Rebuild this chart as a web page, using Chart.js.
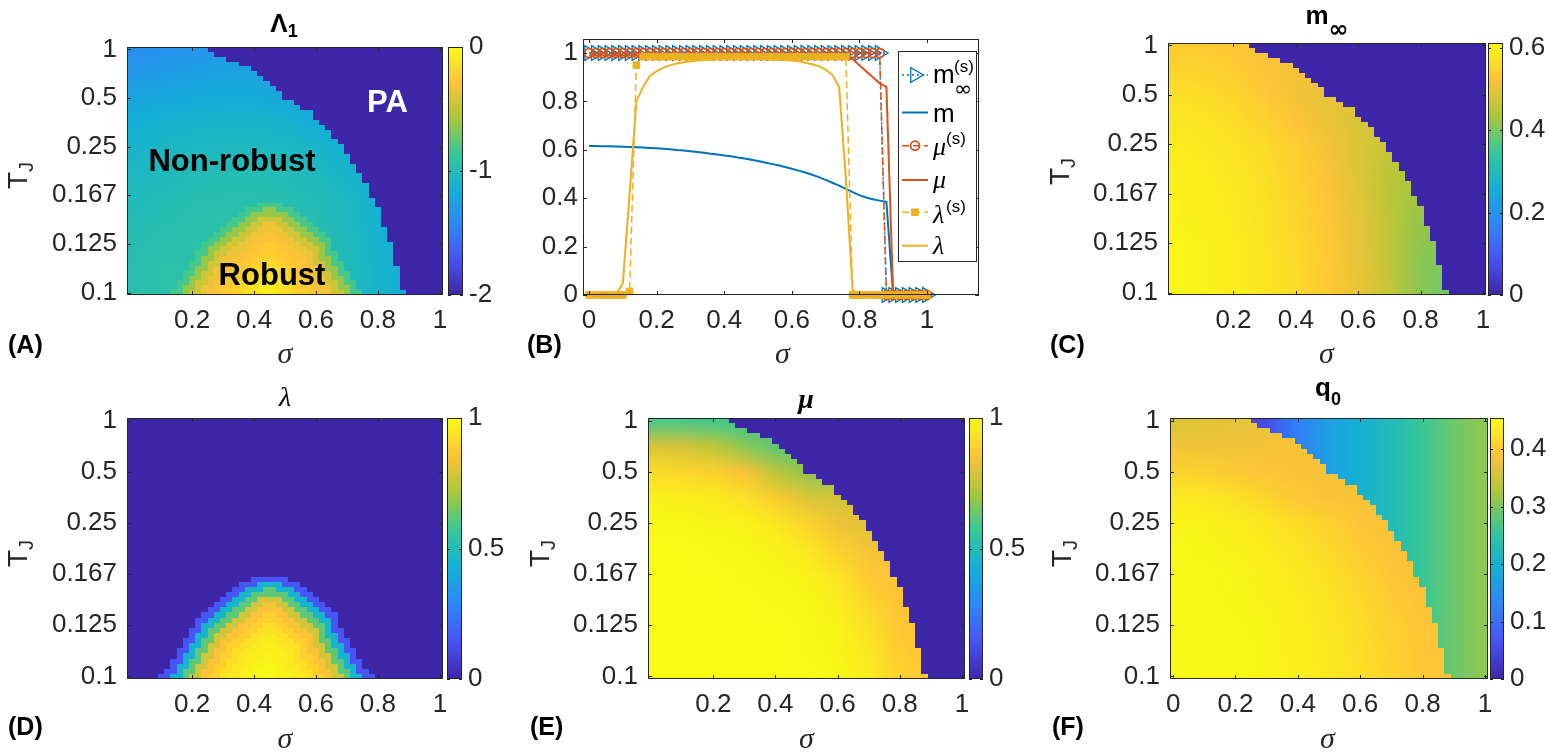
<!DOCTYPE html>
<html>
<head>
<meta charset="utf-8">
<title>Phase diagrams</title>
<script src="https://cdn.jsdelivr.net/npm/chart.js@4.4.1/dist/chart.umd.min.js"></script>
<style>
  html, body { margin:0; padding:0; background:#ffffff; }
  #fig { position:relative; width:1550px; height:755px; overflow:hidden; background:#fff; }
  #fig canvas { position:absolute; }
  .t { position:absolute; white-space:nowrap; line-height:1; font-family:'Liberation Sans', Arial, Helvetica, sans-serif; }
</style>
</head>
<body>
<div id="fig"></div>
<script>
// ======================= DATA =======================
const HEAT_X_TICKS = [0.2, 0.4, 0.6, 0.8, 1];
const HEAT_X_TICKS_F = [0, 0.2, 0.4, 0.6, 0.8, 1];
const TJ_POS = [0, 1, 2, 3, 4, 5];
const TJ_LABELS = ['0.1', '0.125', '0.167', '0.25', '0.5', '1'];

// sigma cell centres (also the sampling grid of panel B)
const SIGMA_GRID = [0,0.02,0.04,0.06,0.08,0.1,0.12,0.14,0.16,0.18,
  0.2,0.22,0.24,0.26,0.28,0.3,0.32,0.34,0.36,0.38,
  0.4,0.42,0.44,0.46,0.48,0.5,0.52,0.54,0.56,0.58,
  0.6,0.62,0.64,0.66,0.68,0.7,0.72,0.74,0.76,0.78,
  0.8,0.82,0.84,0.86,0.88,0.9,0.92,0.94,0.96,0.98,1];

// heat-map rows (position on the T_J axis), top row first
const ROW_Y = [5,4.9,4.8,4.7,4.6,4.5,4.4,4.3,4.2,4.1,
  4,3.9,3.8,3.7,3.6,3.5,3.4,3.3,3.2,3.1,
  3,2.9,2.8,2.7,2.6,2.5,2.4,2.3,2.2,2.1,
  2,1.9,1.8,1.7,1.6,1.5,1.4,1.3,1.2,1.1,
  1,0.9,0.8,0.7,0.6,0.5,0.4,0.3,0.2,0.1,0];
// first sigma cell of the PA phase in each row (top row first)
const PA_START = [0.26,0.28,0.32,0.36,0.40,0.42,0.44,0.46,0.48,0.50,
  0.50,0.54,0.56,0.60,0.60,0.62,0.64,0.66,0.66,0.68,
  0.70,0.70,0.72,0.72,0.74,0.74,0.76,0.76,0.78,0.78,
  0.78,0.80,0.80,0.82,0.82,0.82,0.82,0.84,0.84,0.84,
  0.86,0.86,0.86,0.86,0.86,0.88,0.88,0.88,0.88,0.88,
  0.90];

// robust dome: rows (bottom first) with first / last sigma cell where lambda > 0
const DOME_Y = [0,0.1,0.2,0.3,0.4,0.5,0.6,0.7,0.8,0.9,1.0,1.1,1.2,1.3,1.4,1.5,1.6,1.7,1.8,1.9];
const DOME_LEFT  = [0.10,0.12,0.14,0.14,0.16,0.16,0.18,0.18,0.20,0.20,0.22,0.22,0.24,0.26,0.28,0.30,0.32,0.34,0.36,0.40];
const DOME_RIGHT = [0.78,0.76,0.74,0.74,0.72,0.72,0.70,0.70,0.68,0.68,0.66,0.66,0.66,0.64,0.62,0.60,0.58,0.56,0.54,0.50];
// values inside the dome by depth (ring 0 = outermost cells); null = not part of the robust phase
const LAMBDA_RINGS  = [0.15,0.45,0.62,0.78,0.85,0.89,0.93,0.955,0.97,0.98,0.99,1.0];
const LAMBDA1_RINGS = [null,-0.82,-0.62,-0.45,-0.34,-0.29,-0.26,-0.22,-0.17,-0.12,-0.08,-0.05,-0.03];

// coarse sample grid of the smooth fields
const GRID_SIGMA = [0,0.1,0.2,0.3,0.4,0.5,0.6,0.7,0.8,0.9,1.0];
const GRID_Y = [5,4.5,4,3.5,3,2.5,2,1.5,1,0.5,0];

// (A) Lambda_1 in the non-robust phase
const LAMBDA1_NONROBUST = [
  [-1.38,-1.36,-1.33,-1.30,-1.30,-1.30,-1.30,-1.30,-1.30,-1.30,-1.30],
  [-1.30,-1.28,-1.26,-1.24,-1.24,-1.26,-1.26,-1.26,-1.26,-1.26,-1.26],
  [-1.22,-1.20,-1.18,-1.16,-1.16,-1.20,-1.22,-1.22,-1.22,-1.22,-1.22],
  [-1.15,-1.12,-1.10,-1.09,-1.09,-1.11,-1.16,-1.20,-1.20,-1.20,-1.20],
  [-1.10,-1.07,-1.05,-1.04,-1.04,-1.05,-1.08,-1.14,-1.18,-1.18,-1.18],
  [-1.06,-1.03,-1.01,-1.00,-1.00,-1.01,-1.04,-1.10,-1.16,-1.16,-1.16],
  [-1.03,-1.00,-0.98,-0.97,-0.97,-0.98,-1.01,-1.06,-1.14,-1.16,-1.16],
  [-1.00,-0.98,-0.96,-0.95,-0.95,-0.96,-0.99,-1.04,-1.12,-1.18,-1.18],
  [-0.98,-0.96,-0.95,-0.94,-0.94,-0.95,-0.98,-1.03,-1.10,-1.18,-1.18],
  [-0.97,-0.95,-0.94,-0.93,-0.93,-0.94,-0.97,-1.02,-1.10,-1.18,-1.18],
  [-0.96,-0.95,-0.94,-0.93,-0.93,-0.94,-0.97,-1.02,-1.10,-1.18,-1.18]];
const LAMBDA1_PA = -2;

// (C) m_inf
const M_INF_FIELD = [
  [0.535,0.535,0.530,0.525,0.525,0.525,0.525,0.525,0.525,0.525,0.525],
  [0.555,0.550,0.540,0.525,0.515,0.515,0.515,0.515,0.515,0.515,0.515],
  [0.570,0.565,0.552,0.532,0.512,0.500,0.500,0.500,0.500,0.500,0.500],
  [0.582,0.577,0.565,0.548,0.525,0.505,0.485,0.480,0.480,0.480,0.480],
  [0.590,0.585,0.575,0.560,0.540,0.515,0.487,0.465,0.465,0.465,0.465],
  [0.595,0.590,0.580,0.565,0.545,0.520,0.490,0.455,0.445,0.445,0.445],
  [0.600,0.595,0.585,0.570,0.550,0.525,0.495,0.450,0.430,0.430,0.430],
  [0.600,0.596,0.587,0.572,0.555,0.530,0.500,0.455,0.420,0.415,0.415],
  [0.605,0.600,0.590,0.575,0.558,0.533,0.500,0.455,0.415,0.405,0.405],
  [0.605,0.600,0.590,0.577,0.560,0.535,0.502,0.460,0.410,0.398,0.398],
  [0.605,0.600,0.592,0.578,0.560,0.536,0.503,0.462,0.410,0.392,0.392]];
const M_INF_PA = 0;

// (D) lambda outside the dome
const LAMBDA_OUTSIDE = 0;

// (E) mu
const MU_FIELD = [
  [0.60,0.60,0.59,0.58,0.58,0.58,0.58,0.58,0.58,0.58,0.58],
  [0.80,0.79,0.75,0.68,0.62,0.62,0.62,0.62,0.62,0.62,0.62],
  [0.92,0.91,0.89,0.85,0.74,0.68,0.68,0.68,0.68,0.68,0.68],
  [0.975,0.97,0.96,0.93,0.88,0.80,0.78,0.78,0.78,0.78,0.78],
  [0.995,0.99,0.985,0.98,0.95,0.90,0.83,0.80,0.80,0.80,0.80],
  [1.0,1.0,0.995,0.99,0.98,0.95,0.89,0.84,0.84,0.84,0.84],
  [1.0,1.0,1.0,0.995,0.99,0.98,0.94,0.87,0.86,0.86,0.86],
  [1.0,1.0,1.0,1.0,0.995,0.99,0.965,0.90,0.86,0.86,0.86],
  [1.0,1.0,1.0,1.0,1.0,0.995,0.98,0.93,0.87,0.865,0.865],
  [1.0,1.0,1.0,1.0,1.0,0.995,0.985,0.95,0.88,0.865,0.865],
  [1.0,1.0,1.0,1.0,1.0,1.0,0.99,0.96,0.89,0.87,0.87]];
const MU_PA = 0;

// (F) q0 : ordered phase and PA phase
const Q0_FIELD = [
  [0.363,0.365,0.370,0.375,0.378,0.378,0.378,0.378,0.378,0.378,0.378],
  [0.380,0.380,0.380,0.383,0.385,0.385,0.385,0.385,0.385,0.385,0.385],
  [0.410,0.405,0.397,0.390,0.385,0.385,0.385,0.385,0.385,0.385,0.385],
  [0.436,0.432,0.424,0.410,0.395,0.386,0.385,0.385,0.385,0.385,0.385],
  [0.447,0.445,0.440,0.430,0.418,0.405,0.390,0.385,0.385,0.385,0.385],
  [0.450,0.448,0.444,0.437,0.427,0.414,0.398,0.387,0.386,0.386,0.386],
  [0.450,0.450,0.447,0.442,0.433,0.422,0.408,0.392,0.386,0.386,0.386],
  [0.451,0.450,0.448,0.444,0.437,0.427,0.413,0.398,0.388,0.388,0.388],
  [0.451,0.451,0.450,0.446,0.440,0.430,0.418,0.403,0.392,0.390,0.390],
  [0.452,0.451,0.450,0.447,0.441,0.432,0.420,0.405,0.393,0.390,0.390],
  [0.452,0.452,0.450,0.447,0.442,0.433,0.422,0.407,0.394,0.390,0.390]];
const Q0_PA_Y = [5, 0];
const Q0_PA_FIELD = [
  [0.03,0.03,0.03,0.06,0.125,0.17,0.20,0.226,0.26,0.29,0.31],
  [0.03,0.03,0.03,0.06,0.125,0.17,0.20,0.226,0.26,0.29,0.31]];

// colour-bar ranges and ticks
const CB_A_RANGE = [-2, 0],      CB_A_TICKS = [-2, -1, 0];
const CB_C_RANGE = [0, 0.612],   CB_C_TICKS = [0, 0.2, 0.4, 0.6];
const CB_D_RANGE = [0, 1],       CB_D_TICKS = [0, 0.5, 1];
const CB_E_RANGE = [0, 1],       CB_E_TICKS = [0, 0.5, 1];
const CB_F_RANGE = [0, 0.454],   CB_F_TICKS = [0, 0.1, 0.2, 0.3, 0.4];

// (B) cuts at T_J = 0.1
const B_X_TICKS = [0, 0.2, 0.4, 0.6, 0.8, 1];
const B_Y_TICKS = [0, 0.2, 0.4, 0.6, 0.8, 1];
const M_INF_S = [1,1,1,1,1,1,1,1,1,1, 1,1,1,1,1,1,1,1,1,1, 1,1,1,1,1,1,1,1,1,1, 1,1,1,1,1,1,1,1,1,1, 1,1,1,1,0,0,0,0,0,0, 0];
const M_B = [0.616,0.616,0.615,0.615,0.614,0.613,0.612,0.611,0.610,0.608,
  0.606,0.604,0.602,0.599,0.597,0.594,0.591,0.588,0.584,0.581,
  0.577,0.573,0.568,0.564,0.559,0.554,0.548,0.542,0.536,0.529,
  0.522,0.514,0.506,0.497,0.487,0.476,0.464,0.452,0.439,0.425,
  0.413,0.403,0.396,0.390,0.385,0,0,0,0,0,
  0];
const MU_S = [1,1,1,1,1,1,1,1,1,1, 1,1,1,1,1,1,1,1,1,1, 1,1,1,1,1,1,1,1,1,1, 1,1,1,1,1,1,1,1,1,1, 1,1,1,1,0,0,0,0,0,0, 0];
const MU_B = [0.99,0.99,0.99,0.99,0.99,0.99,0.99,0.99,0.99,0.99,
  0.99,0.99,0.99,0.99,0.99,0.99,0.99,0.99,0.99,0.99,
  0.99,0.99,0.99,0.99,0.99,0.99,0.99,0.99,0.99,0.99,
  0.99,0.99,0.99,0.99,0.99,0.99,0.99,0.99,0.985,0.975,
  0.95,0.925,0.90,0.875,0.86,0,0,0,0,0,
  0];
const LAMBDA_S = [0,0,0,0,0,0,0.015,0.95,0.985,0.985,
  0.985,0.985,0.985,0.985,0.985,0.985,0.985,0.985,0.985,0.985,
  0.985,0.985,0.985,0.985,0.985,0.985,0.985,0.985,0.985,0.985,
  0.985,0.985,0.985,0.985,0.985,0.985,0.985,0.985,0.985,0,
  0,0,0,0,0,0,0,0,0,0,
  0];
const LAMBDA_B = [0,0,0,0,0,0.05,0.42,0.80,0.86,0.905,
  0.925,0.94,0.95,0.957,0.962,0.966,0.969,0.971,0.973,0.974,
  0.975,0.975,0.975,0.975,0.975,0.975,0.974,0.973,0.972,0.971,
  0.969,0.966,0.960,0.954,0.946,0.932,0.910,0.860,0.480,0.020,
  0,0,0,0,0,0,0,0,0,0,
  0];

// ======================= STYLE / RENDERING =======================
const SANS = "'Liberation Sans', Arial, Helvetica, sans-serif";
const SERIF = "'Liberation Serif', 'Times New Roman', serif";
const INK = '#262626';
const BLUE = 'rgb(0,114,189)', ORANGE = 'rgb(217,83,25)', YELLOW = 'rgb(237,177,32)';
const CELL_HW = 0.01, CELL_HH = 0.05;
const PARULA = [[62,38,168],[72,82,244],[46,135,247],[18,177,214],[55,200,151],[171,199,57],[254,195,56],[249,251,21]];

Chart.defaults.font.family = SANS;
Chart.defaults.color = INK;

const fig = document.getElementById('fig');

function parulaRGB(t) {
  t = Math.max(0, Math.min(1, t));
  const n = PARULA.length - 1, f = t * n;
  const i = Math.min(n - 1, Math.floor(f)), u = f - i;
  const a = PARULA[i], b = PARULA[i + 1];
  return [0, 1, 2].map(j => Math.round(a[j] + (b[j] - a[j]) * u));
}
function parulaCss(t) { const c = parulaRGB(t); return `rgb(${c[0]},${c[1]},${c[2]})`; }
function valColor(v, r) { return parulaCss((v - r[0]) / (r[1] - r[0])); }

function fieldCanvas(grid, r) {
  const h = grid.length, w = grid[0].length;
  const c = document.createElement('canvas'); c.width = w; c.height = h;
  const g = c.getContext('2d'); const im = g.createImageData(w, h);
  for (let j = 0; j < h; j++) for (let i = 0; i < w; i++) {
    const col = parulaRGB((grid[j][i] - r[0]) / (r[1] - r[0])); const p = (j * w + i) * 4;
    im.data[p] = col[0]; im.data[p + 1] = col[1]; im.data[p + 2] = col[2]; im.data[p + 3] = 255;
  }
  g.putImageData(im, 0, 0); return c;
}
function drawField(chart, img, gs, gy) {
  const xs = chart.scales.x, ys = chart.scales.y, ctx = chart.ctx;
  const ds = gs[1] - gs[0], dy = gy[0] - gy[1];
  const x0 = xs.getPixelForValue(gs[0] - ds / 2), x1 = xs.getPixelForValue(gs[gs.length - 1] + ds / 2);
  const y0 = ys.getPixelForValue(gy[0] + dy / 2), y1 = ys.getPixelForValue(gy[gy.length - 1] - dy / 2);
  ctx.imageSmoothingEnabled = true;
  ctx.imageSmoothingQuality = 'low';
  ctx.drawImage(img, x0, y0, x1 - x0, y1 - y0);
}
function rpx(scale, v) { return Math.round(scale.getPixelForValue(v)); }
function paPath(chart) {
  const xs = chart.scales.x, ys = chart.scales.y, ctx = chart.ctx;
  ctx.beginPath();
  for (let k = 0; k < ROW_Y.length; k++) {
    const xa = rpx(xs, PA_START[k] - CELL_HW), xb = rpx(xs, 1 + CELL_HW);
    const ya = rpx(ys, ROW_Y[k] + CELL_HH), yb = rpx(ys, ROW_Y[k] - CELL_HH);
    ctx.rect(xa, ya, xb - xa, yb - ya);
  }
}
function inDome(k, c) {
  if (c < 0 || c >= SIGMA_GRID.length) return false;
  if (k < 0) return true;
  if (k >= DOME_Y.length) return false;
  const s = SIGMA_GRID[c];
  return s >= DOME_LEFT[k] - 1e-6 && s <= DOME_RIGHT[k] + 1e-6;
}
function ringOf(k, c) {
  for (let d = 1; d < 40; d++) {
    for (let dk = -d; dk <= d; dk++) for (let dc = -d; dc <= d; dc++) {
      if (Math.max(Math.abs(dk), Math.abs(dc)) !== d) continue;
      if (!inDome(k + dk, c + dc)) return d - 1;
    }
  }
  return 39;
}
function drawDome(chart, rings, r) {
  const xs = chart.scales.x, ys = chart.scales.y, ctx = chart.ctx;
  for (let k = 0; k < DOME_Y.length; k++) for (let c = 0; c < SIGMA_GRID.length; c++) {
    if (!inDome(k, c)) continue;
    const v = rings[Math.min(ringOf(k, c), rings.length - 1)];
    if (v === null) continue;
    const xa = rpx(xs, SIGMA_GRID[c] - CELL_HW), xb = rpx(xs, SIGMA_GRID[c] + CELL_HW);
    const ya = rpx(ys, DOME_Y[k] + CELL_HH), yb = rpx(ys, DOME_Y[k] - CELL_HH);
    ctx.fillStyle = valColor(v, r);
    ctx.fillRect(xa, ya, xb - xa, yb - ya);
  }
}

// frame + inward ticks (MATLAB style box)
const framePlugin = {
  id: 'frame',
  afterDraw(chart, args, opts) {
    const ctx = chart.ctx, a = chart.chartArea, L = opts.len || 4;
    ctx.save();
    ctx.strokeStyle = INK; ctx.lineWidth = 1; ctx.setLineDash([]);
    ctx.strokeRect(a.left + 0.5, a.top + 0.5, a.right - a.left - 1, a.bottom - a.top - 1);
    ctx.beginPath();
    for (const id of Object.keys(chart.scales)) {
      const s = chart.scales[id];
      if (s.options.display === false) continue;
      for (const t of s.ticks) {
        const p = Math.round(s.getPixelForValue(t.value)) + 0.5;
        if (s.isHorizontal()) {
          ctx.moveTo(p, a.bottom); ctx.lineTo(p, a.bottom - L);
          ctx.moveTo(p, a.top); ctx.lineTo(p, a.top + L);
        } else {
          ctx.moveTo(a.left, p); ctx.lineTo(a.left + L, p);
          ctx.moveTo(a.right, p); ctx.lineTo(a.right - L, p);
        }
      }
    }
    ctx.stroke();
    ctx.restore();
  }
};

function mkCanvas(l, t, w, h) {
  const c = document.createElement('canvas');
  c.width = w; c.height = h;
  c.style.left = l + 'px'; c.style.top = t + 'px';
  c.style.width = w + 'px'; c.style.height = h + 'px';
  fig.appendChild(c); return c;
}
function noPad(s) { s.paddingTop = 0; s.paddingBottom = 0; s.paddingLeft = 0; s.paddingRight = 0; }
const TICK_FONT = { size: 26, family: SANS };
const NO_GRID = { display: false, drawTicks: false, tickLength: 0 };

function makeHeat(p) {
  const padL = 95, padT = 12, padR = 12, padB = 50;
  const W = p.r - p.l, H = p.b - p.t;
  const cv = mkCanvas(p.l - padL, p.t - padT, W + padL + padR, H + padT + padB);
  return new Chart(cv, {
    type: 'scatter',
    data: { datasets: [] },
    options: {
      responsive: false, animation: false, events: [],
      layout: { autoPadding: false, padding: { left: 0, top: padT, right: padR, bottom: 0 } },
      plugins: { legend: { display: false }, tooltip: { enabled: false }, frame: { len: 4 } },
      scales: {
        x: { type: 'linear', min: -0.01, max: 1.01, grid: NO_GRID, border: { display: false },
          afterFit: s => { s.height = padB; noPad(s); },
          afterBuildTicks: s => { s.ticks = p.xTicks.map(v => ({ value: v })); },
          ticks: { font: TICK_FONT, color: INK, padding: 10, maxRotation: 0, minRotation: 0, autoSkip: false, callback: v => String(v) } },
        y: { type: 'linear', min: -0.05, max: 5.05, grid: NO_GRID, border: { display: false },
          afterFit: s => { s.width = padL; noPad(s); },
          afterBuildTicks: s => { s.ticks = TJ_POS.map(v => ({ value: v })); },
          ticks: { font: TICK_FONT, color: INK, padding: 10, autoSkip: false, callback: v => TJ_LABELS[TJ_POS.indexOf(v)] } }
      }
    },
    plugins: [{
      id: 'heat',
      beforeDatasetsDraw(chart) {
        const ctx = chart.ctx, a = chart.chartArea;
        ctx.save(); ctx.beginPath(); ctx.rect(a.left, a.top, a.right - a.left, a.bottom - a.top); ctx.clip();
        p.draw(chart);
        ctx.restore();
      }
    }, framePlugin]
  });
}

function makeColorbar(c) {
  const padT = 14, padB = 14, padR = 62;
  const cv = mkCanvas(c.l, c.t - padT, (c.r - c.l) + padR, (c.b - c.t) + padT + padB);
  return new Chart(cv, {
    type: 'bar',
    data: { labels: [''], datasets: [{ data: [[c.range[0], c.range[1]]], borderWidth: 0, barPercentage: 1, categoryPercentage: 1,
      backgroundColor: (ctx) => {
        const ch = ctx.chart, a = ch.chartArea; if (!a) return 'rgba(0,0,0,0)';
        const g = ch.ctx.createLinearGradient(0, a.bottom, 0, a.top);
        for (let i = 0; i <= 40; i++) g.addColorStop(i / 40, parulaCss(i / 40));
        return g;
      } }] },
    options: {
      responsive: false, animation: false, events: [],
      layout: { autoPadding: false, padding: { left: 0, top: padT, right: 0, bottom: padB } },
      plugins: { legend: { display: false }, tooltip: { enabled: false }, frame: { len: 3 } },
      scales: {
        x: { display: false, grid: NO_GRID, afterFit: s => noPad(s) },
        y: { position: 'right', min: c.range[0], max: c.range[1], grid: NO_GRID, border: { display: false },
          afterFit: s => { s.width = padR; noPad(s); },
          afterBuildTicks: s => { s.ticks = c.ticks.map(v => ({ value: v })); },
          ticks: { font: TICK_FONT, color: INK, padding: 6, autoSkip: false, callback: v => String(v) } }
      }
    },
    plugins: [framePlugin]
  });
}

// ---------- panel A ----------
const imgA = fieldCanvas(LAMBDA1_NONROBUST, CB_A_RANGE);
makeHeat({ l: 127, t: 47, r: 443, b: 295, xTicks: HEAT_X_TICKS, draw: ch => {
  drawField(ch, imgA, GRID_SIGMA, GRID_Y);
  paPath(ch); ch.ctx.fillStyle = valColor(LAMBDA1_PA, CB_A_RANGE); ch.ctx.fill();
  drawDome(ch, LAMBDA1_RINGS, CB_A_RANGE);
}});
makeColorbar({ l: 448, t: 47, r: 463, b: 295, range: CB_A_RANGE, ticks: CB_A_TICKS });

// ---------- panel C ----------
const imgC = fieldCanvas(M_INF_FIELD, CB_C_RANGE);
makeHeat({ l: 1168, t: 43, r: 1486, b: 295, xTicks: HEAT_X_TICKS, draw: ch => {
  drawField(ch, imgC, GRID_SIGMA, GRID_Y);
  paPath(ch); ch.ctx.fillStyle = valColor(M_INF_PA, CB_C_RANGE); ch.ctx.fill();
}});
makeColorbar({ l: 1488, t: 43, r: 1503, b: 295, range: CB_C_RANGE, ticks: CB_C_TICKS });

// ---------- panel D ----------
makeHeat({ l: 127, t: 418, r: 443, b: 679, xTicks: HEAT_X_TICKS, draw: ch => {
  const xs = ch.scales.x, ys = ch.scales.y;
  ch.ctx.fillStyle = valColor(LAMBDA_OUTSIDE, CB_D_RANGE);
  ch.ctx.fillRect(rpx(xs, -CELL_HW), rpx(ys, 5 + CELL_HH),
    rpx(xs, 1 + CELL_HW) - rpx(xs, -CELL_HW), rpx(ys, -CELL_HH) - rpx(ys, 5 + CELL_HH));
  drawDome(ch, LAMBDA_RINGS, CB_D_RANGE);
}});
makeColorbar({ l: 447, t: 418, r: 462, b: 679, range: CB_D_RANGE, ticks: CB_D_TICKS });

// ---------- panel E ----------
const imgE = fieldCanvas(MU_FIELD, CB_E_RANGE);
makeHeat({ l: 648, t: 418, r: 965, b: 679, xTicks: HEAT_X_TICKS, draw: ch => {
  drawField(ch, imgE, GRID_SIGMA, GRID_Y);
  paPath(ch); ch.ctx.fillStyle = valColor(MU_PA, CB_E_RANGE); ch.ctx.fill();
}});
makeColorbar({ l: 969, t: 418, r: 983, b: 679, range: CB_E_RANGE, ticks: CB_E_TICKS });

// ---------- panel F ----------
const imgF = fieldCanvas(Q0_FIELD, CB_F_RANGE);
const imgFpa = fieldCanvas(Q0_PA_FIELD, CB_F_RANGE);
makeHeat({ l: 1170, t: 418, r: 1488, b: 679, xTicks: HEAT_X_TICKS_F, draw: ch => {
  drawField(ch, imgF, GRID_SIGMA, GRID_Y);
  ch.ctx.save(); paPath(ch); ch.ctx.clip();
  drawField(ch, imgFpa, GRID_SIGMA, Q0_PA_Y);
  ch.ctx.restore();
}});
makeColorbar({ l: 1490, t: 418, r: 1504, b: 679, range: CB_F_RANGE, ticks: CB_F_TICKS });

// ---------- panel B ----------
function pts(arr) { return SIGMA_GRID.map((s, i) => ({ x: s, y: arr[i] })); }
const LEGEND_DY = [36, 73.5, 106.7, 141, 173.3, 206.7];
const legendPlugin = {
  id: 'bLegend',
  afterDraw(chart) {
    const ctx = chart.ctx, a = chart.chartArea;
    const bx = a.right - 81, by = a.top + 12, bw = 79, bh = 211;
    ctx.save();
    ctx.fillStyle = '#fff'; ctx.fillRect(bx, by, bw, bh);
    ctx.strokeStyle = INK; ctx.lineWidth = 1; ctx.strokeRect(bx + 0.5, by + 0.5, bw - 1, bh - 1);
    chart.data.datasets.forEach((ds, i) => {
      const y = a.top + LEGEND_DY[i];
      ctx.strokeStyle = ds.borderColor; ctx.lineWidth = ds.borderWidth;
      ctx.setLineDash(ds.borderDash || []);
      ctx.beginPath(); ctx.moveTo(a.right - 77, y); ctx.lineTo(a.right - 51, y); ctx.stroke();
      ctx.setLineDash([]);
      if (ds.pointRadius > 0) {
        ctx.lineWidth = ds.pointBorderWidth; ctx.strokeStyle = ds.pointBorderColor; ctx.fillStyle = ds.pointBackgroundColor;
        Chart.helpers.drawPoint(ctx, { pointStyle: ds.pointStyle, rotation: ds.pointRotation || 0, radius: ds.pointRadius, borderWidth: ds.pointBorderWidth }, a.right - 64, y);
      }
    });
    ctx.restore();
  }
};
(function () {
  const p = { l: 583, t: 39, r: 979, b: 295 };
  const padL = 80, padT = 12, padR = 12, padB = 50;
  const cv = mkCanvas(p.l - padL, p.t - padT, (p.r - p.l) + padL + padR, (p.b - p.t) + padT + padB);
  new Chart(cv, {
    type: 'line',
    data: { datasets: [
      { label: 'm_inf(s)', data: pts(M_INF_S), borderColor: BLUE, borderWidth: 1.5, borderDash: [2, 3],
        pointStyle: 'triangle', pointRotation: 90, pointRadius: 8.5, pointBorderColor: BLUE, pointBackgroundColor: 'rgba(0,0,0,0)', pointBorderWidth: 1.3, order: 6, clip: 16 },
      { label: 'm', data: pts(M_B), borderColor: BLUE, borderWidth: 2, pointRadius: 0, order: 5 },
      { label: 'mu(s)', data: pts(MU_S), borderColor: ORANGE, borderWidth: 1.5, borderDash: [7, 4],
        pointStyle: 'circle', pointRadius: 4.5, pointBorderColor: ORANGE, pointBackgroundColor: 'rgba(0,0,0,0)', pointBorderWidth: 1.8, order: 4, clip: 16 },
      { label: 'mu', data: pts(MU_B), borderColor: ORANGE, borderWidth: 2, pointRadius: 0, order: 3 },
      { label: 'lambda(s)', data: pts(LAMBDA_S), borderColor: YELLOW, borderWidth: 1.5, borderDash: [7, 4],
        pointStyle: 'rect', pointRadius: 4.7, pointBorderColor: YELLOW, pointBackgroundColor: YELLOW, pointBorderWidth: 1, order: 2, clip: 16 },
      { label: 'lambda', data: pts(LAMBDA_B), borderColor: YELLOW, borderWidth: 2, pointRadius: 0, order: 1 }
    ] },
    options: {
      responsive: false, animation: false, events: [],
      layout: { autoPadding: false, padding: { left: 0, top: padT, right: padR, bottom: 0 } },
      plugins: { legend: { display: false }, tooltip: { enabled: false }, frame: { len: 4 } },
      scales: {
        x: { type: 'linear', min: -0.018, max: 1.154, grid: NO_GRID, border: { display: false },
          afterFit: s => { s.height = padB; noPad(s); },
          afterBuildTicks: s => { s.ticks = B_X_TICKS.map(v => ({ value: v })); },
          ticks: { font: TICK_FONT, color: INK, padding: 10, maxRotation: 0, minRotation: 0, autoSkip: false, callback: v => String(v) } },
        y: { type: 'linear', min: 0, max: 1.058, grid: NO_GRID, border: { display: false },
          afterFit: s => { s.width = padL; noPad(s); },
          afterBuildTicks: s => { s.ticks = B_Y_TICKS.map(v => ({ value: v })); },
          ticks: { font: TICK_FONT, color: INK, padding: 5, autoSkip: false, callback: v => String(v) } }
      }
    },
    plugins: [framePlugin, legendPlugin]
  });
})();

// ======================= TEXT =======================
function T(html, x, base, size, o = {}) {
  const d = document.createElement('div'); d.className = 't'; d.innerHTML = html;
  const s = d.style;
  s.fontSize = size + 'px';
  if (o.w) s.fontWeight = o.w;
  if (o.i) s.fontStyle = 'italic';
  if (o.f) s.fontFamily = o.f;
  s.color = o.c || '#000';
  s.top = (base - 0.845 * size) + 'px';
  s.left = x + 'px';
  if (o.a === 'c') s.transform = 'translateX(-50%)';
  fig.appendChild(d); return d;
}
function V(html, left, top, size) {
  const d = document.createElement('div'); d.className = 't'; d.innerHTML = html;
  const s = d.style; s.fontSize = size + 'px'; s.color = INK;
  s.left = left + 'px'; s.top = top + 'px'; s.transformOrigin = '0 0'; s.transform = 'rotate(-90deg)';
  fig.appendChild(d); return d;
}
function sub(t, size, dy, extra) { return `<span style="font-size:${size}px;position:relative;top:${dy}px;${extra || ''}">${t}</span>`; }

// titles
T('Λ' + sub('1', 18, 5), 284, 32, 26, { w: 'bold', a: 'c' });
T('m' + sub('∞', 24, 13, "font-family:'DejaVu Sans'"), 1327, 24, 26, { w: 'bold', a: 'c' });
T('λ', 285, 407, 28, { f: SERIF, i: 1, a: 'c' });
T('μ', 806, 409, 28, { f: SERIF, i: 1, w: 'bold', a: 'c' });
T('q' + sub('0', 18, 9), 1328, 396, 26, { w: 'bold', a: 'c' });

// y labels T_J
const TJ_HTML = 'T' + sub('J', 20, 6);
V(TJ_HTML, 4, 189, 28);
V(TJ_HTML, 1046, 185, 28);
V(TJ_HTML, 4, 567, 28);
V(TJ_HTML, 526, 567, 28);
V(TJ_HTML, 1048, 567, 28);

// x labels sigma
[[285, 363], [782.5, 363], [1326.5, 363], [285, 748], [806.5, 748], [1327.5, 748]].forEach(q =>
  T('σ', q[0], q[1], 30, { f: SERIF, i: 1, a: 'c', c: INK }));

// panel letters
[['(A)', 8, 353.5], ['(B)', 527, 353.5], ['(C)', 1050, 353.5], ['(D)', 8, 735], ['(E)', 530, 735], ['(F)', 1052, 735]].forEach(q =>
  T(q[0], q[1], q[2], 25, { w: 'bold' }));

// phase annotations in A
T('Non-robust', 232, 171, 31, { w: 'bold', a: 'c' });
T('Robust', 272, 285, 31, { w: 'bold', a: 'c' });
T('PA', 387.5, 112.5, 31, { w: 'bold', a: 'c', c: '#fff' });

// legend of B
T('m', 933, 83, 26); T('(s)', 954, 72, 17); T('∞', 954, 97, 22, { f: "'DejaVu Sans'" });
T('m', 933, 121.5, 26);
T('μ', 933, 156, 26, { f: SERIF, i: 1 }); T('(s)', 946, 144, 17);
T('μ', 933, 189, 26, { f: SERIF, i: 1 });
T('λ', 933, 224, 26, { f: SERIF, i: 1 }); T('(s)', 946, 212, 17);
T('λ', 933, 255, 26, { f: SERIF, i: 1 });
</script>
</body>
</html>
